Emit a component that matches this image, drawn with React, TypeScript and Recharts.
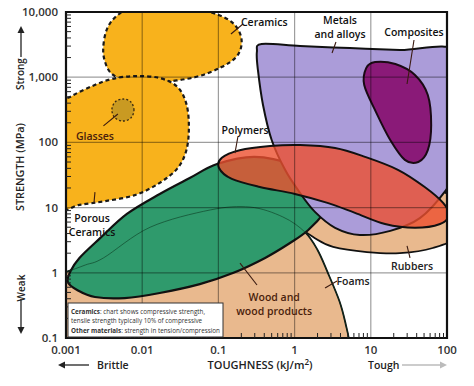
import { ScatterChart, Scatter, XAxis, YAxis, ReferenceLine, ReferenceArea } from "recharts";

type Pt = [number, number];

// toughness (kJ/m2), strength (MPa) outlines
const ceramics: Pt[] = [[0.0031, 3100], [0.0035, 5700], [0.0048, 9000], [0.0094, 14000], [0.027, 14000], [0.078, 10000], [0.15, 7000], [0.2, 4000], [0.18, 2200], [0.11, 1430], [0.049, 1000], [0.017, 840], [0.0069, 870], [0.004, 1120], [0.0032, 1840]];
const porousCeramics: Pt[] = [[0.00079, 340], [0.0012, 515], [0.0022, 730], [0.004, 940], [0.0081, 1040], [0.017, 970], [0.029, 710], [0.038, 390], [0.041, 172], [0.038, 76], [0.029, 40], [0.017, 24], [0.0081, 15.6], [0.0033, 12.6], [0.0015, 11], [0.00079, 9.9], [0.00062, 54]];
const glasses: Pt[] = [[0.0078, 314], [0.0071, 417], [0.0056, 463], [0.0044, 417], [0.004, 314], [0.0044, 237], [0.0056, 213], [0.0071, 237]];
const metals: Pt[] = [[0.37, 3230], [1.18, 3010], [5.3, 2800], [24, 2610], [139, 2440], [148, 221], [131, 38], [97, 18.6], [44, 6.9], [18, 4.4], [7.2, 3.8], [3.4, 4.9], [1.85, 8.6], [1.18, 16.7], [0.75, 38], [0.5, 109], [0.385, 375], [0.33, 1290], [0.32, 2440]];
const composites: Pt[] = [[11.4, 1710], [21, 1590], [38, 1080], [56, 533], [62, 185], [56, 76], [42, 50], [28, 54], [18, 109], [11.7, 292], [8.2, 760], [8.7, 1380]];
const polymers: Pt[] = [[0.111, 58], [0.19, 76], [0.475, 88], [1.18, 91], [3.4, 82], [8.4, 60], [22.7, 38], [51, 20.7], [89, 11.8], [106, 7.7], [81, 5.6], [38, 4.9], [15.4, 5.6], [6.2, 8.3], [2.7, 11.8], [1.01, 16.2], [0.35, 20.7], [0.15, 27.5], [0.102, 40.5]];
const wood: Pt[] = [[0.00113, 1.03], [0.0015, 1.69], [0.0028, 3.4], [0.0063, 8.0], [0.017, 16.2], [0.042, 28.4], [0.096, 46.6], [0.3, 60], [1.01, 45], [2.3, 26.5], [3.2, 15.1], [2.5, 8.6], [1.5, 4.5], [0.87, 2.86], [0.41, 1.69], [0.155, 0.99], [0.057, 0.67], [0.017, 0.49], [0.0059, 0.41], [0.0024, 0.425], [0.0014, 0.545], [0.00106, 0.72]];
const foams: Pt[] = [[0.00062, 0.89], [0.001, 1.03], [0.0018, 1.32], [0.0031, 1.69], [0.0127, 5.0], [0.078, 9.2], [0.26, 10.2], [0.7, 7.2], [1.37, 4.2], [2.0, 2.24], [2.7, 1.03], [3.9, 0.36], [4.7, 0.16], [5.3, 0.078], [5.7, 0.023], [0.00062, 0.023]];
const rubbers: Pt[] = [[0.87, 11], [1.37, 18.6], [3.9, 32.7], [10.7, 30.5], [30, 26.5], [81, 18.6], [139, 11], [139, 3.8], [65, 2.4], [24, 2.0], [8.9, 2.08], [3.2, 2.5], [1.85, 3.4], [1.11, 5.4]];

const xTicks = [0.001, 0.01, 0.1, 1, 10, 100];
const xTickLabels = ["0.001", "0.01", "0.1", "1", "10", "100"];
const yTicks = [0.1, 1, 10, 100, 1000, 10000];
const yTickLabels = ["0.1", "1", "10", "100", "1,000", "10,000"];
const minorSteps = [2, 3, 4, 5, 6, 7, 8, 9];

const labels = [
  { x: 0.4, y: 7000, lines: ["Ceramics"], color: "#111" },
  { x: 3.94, y: 5890, lines: ["Metals", "and alloys"], color: "#111" },
  { x: 36.9, y: 4940, lines: ["Composites"], color: "#111" },
  { x: 0.224, y: 155, lines: ["Polymers"], color: "#111" },
  { x: 0.0024, y: 125, lines: ["Glasses"], color: "#4a1e0c" },
  { x: 0.0022, y: 5.4, lines: ["Porous", "Ceramics"], color: "#111" },
  { x: 0.54, y: 0.33, lines: ["Wood and", "wood products"], color: "#4a1e0c" },
  { x: 5.84, y: 0.75, lines: ["Foams"], color: "#222" },
  { x: 34.8, y: 1.27, lines: ["Rubbers"], color: "#222" },
];

const leaders: [Pt, Pt][] = [
  [[0.21, 6540], [0.146, 4600]],
  [[3.49, 3470], [3.1, 2350]],
  [[36.9, 3720], [29.9, 787]],
  [[0.18, 121], [0.165, 68.7]],
  [[0.0031, 179], [0.0048, 273]],
  [[0.00233, 11.8], [0.0024, 17.3]],
  [[0.192, 1.41], [0.321, 0.65]],
  [[3.6, 0.748], [2.51, 0.585]],
  [[29.9, 2.58], [32.7, 1.69]],
];

const toRows = (pts: Pt[]) => pts.map(([x, y]) => ({ x, y }));

const xAll = [...xTicks, ...xTicks.slice(0, -1).flatMap((t) => minorSteps.map((m) => t * m))];
const yAll = [...yTicks, ...yTicks.slice(0, -1).flatMap((t) => minorSteps.map((m) => t * m))];

// closed catmull-rom through the pixel points
const blobPath = (pts: { x: number; y: number }[]) => {
  const n = pts.length;
  let d = `M${pts[0].x},${pts[0].y}`;
  for (let i = 0; i < n; i++) {
    const p0 = pts[(i - 1 + n) % n];
    const p1 = pts[i];
    const p2 = pts[(i + 1) % n];
    const p3 = pts[(i + 2) % n];
    const c1x = p1.x + (p2.x - p0.x) / 6;
    const c1y = p1.y + (p2.y - p0.y) / 6;
    const c2x = p2.x - (p3.x - p1.x) / 6;
    const c2y = p2.y - (p3.y - p1.y) / 6;
    d += ` C${c1x},${c1y} ${c2x},${c2y} ${p2.x},${p2.y}`;
  }
  return d + " Z";
};

const blob = (key: string, pts: Pt[], style: any) => (
  <Scatter
    key={key}
    data={toRows(pts)}
    isAnimationActive={false}
    lineType="joint"
    legendType="none"
    shape={() => <g />}
    line={(p: any) => <path d={blobPath(p.points)} {...style} />}
  />
);

const XTick = (props: any) => {
  const { x, y, payload } = props;
  const i = xTicks.indexOf(payload.value);
  if (i < 0) return <line x1={x} x2={x} y1={y} y2={y - 5} stroke="#222" strokeWidth={1} />;
  return (
    <text x={x} y={y + 16} textAnchor="middle" fontSize={11.5} fontWeight={600} fill="#333">
      {xTickLabels[i]}
    </text>
  );
};

const YTick = (props: any) => {
  const { x, y, payload } = props;
  const i = yTicks.indexOf(payload.value);
  if (i < 0) return <line x1={x} x2={x + 5} y1={y} y2={y} stroke="#222" strokeWidth={1} />;
  return (
    <text x={x - 8} y={y + 4} textAnchor="end" fontSize={11.5} fontWeight={600} fill="#333">
      {yTickLabels[i]}
    </text>
  );
};

const LabelShape = (props: any) => {
  const { cx, cy, payload } = props;
  const lh = 14;
  const top = cy - ((payload.lines.length - 1) * lh) / 2;
  return (
    <text textAnchor="middle" fontSize={10.5} fontWeight={600} fill={payload.color} dominantBaseline="central">
      {payload.lines.map((l: string, k: number) => (
        <tspan key={k} x={cx} y={top + k * lh}>
          {l}
        </tspan>
      ))}
    </text>
  );
};

const dashed = { stroke: "#1a1a1a", strokeWidth: 2.2, strokeDasharray: "4 3" };

export default function App() {
  return (
    <div style={{ position: "absolute", left: 0, top: 0, width: 474, height: 386, background: "#fff", fontFamily: "'Open Sans', sans-serif" }}>
      <ScatterChart width={474} height={386} margin={{ top: 12, right: 27, bottom: 0, left: 10 }} style={{ fontFamily: "'Open Sans', sans-serif" }}>
        {blob("foams", foams, { fill: "#e9b98e", stroke: "#111", strokeWidth: 1.8 })}
        {blob("rubbers", rubbers, { fill: "#e9b98e", stroke: "#111", strokeWidth: 1.8 })}
        {blob("wood", wood, { fill: "#2f9a6c", stroke: "#111", strokeWidth: 2.2 })}
        {blob("foamsEdge", foams, { fill: "none", stroke: "#0b3a22", strokeOpacity: 0.6, strokeWidth: 1 })}
        {blob("metals", metals, { fill: "#ab9cd9", stroke: "#111", strokeWidth: 2 })}
        {blob("composites", composites, { fill: "#8a1a78", stroke: "#1a0a14", strokeWidth: 2 })}
        {blob("polymers", polymers, { fill: "#ec5030", fillOpacity: 0.8, stroke: "#111", strokeWidth: 2 })}
        {blob("ceramics", ceramics, { fill: "#f8b21c", ...dashed })}
        {blob("porous", porousCeramics, { fill: "#f8b21c", ...dashed })}
        {blob("glasses", glasses, { fill: "#c99a22", stroke: "#3a2a10", strokeWidth: 1.3, strokeDasharray: "2 2" })}

        {xTicks.slice(1, -1).map((v) => (
          <ReferenceLine key={"gx" + v} x={v} stroke="#000" strokeOpacity={0.38} strokeWidth={1.2} zIndex={650} />
        ))}
        {yTicks.slice(1, -1).map((v) => (
          <ReferenceLine key={"gy" + v} y={v} stroke="#000" strokeOpacity={0.38} strokeWidth={1.2} zIndex={650} />
        ))}
        {leaders.map((s, k) => (
          <ReferenceLine
            key={"ld" + k}
            segment={[{ x: s[0][0], y: s[0][1] }, { x: s[1][0], y: s[1][1] }]}
            stroke="#3a1a10"
            strokeWidth={1.1}
            ifOverflow="visible"
            zIndex={660}
          />
        ))}
        <Scatter data={labels} isAnimationActive={false} legendType="none" shape={LabelShape} zIndex={800} />

        <XAxis
          dataKey="x"
          type="number"
          scale="log"
          domain={[0.001, 100]}
          allowDataOverflow
          ticks={xAll}
          interval={0}
          tick={XTick}
          tickSize={0}
          tickMargin={0}
          axisLine={false}
          height={48}
          zIndex={700}
        />
        <YAxis
          dataKey="y"
          type="number"
          scale="log"
          domain={[0.1, 10000]}
          allowDataOverflow
          ticks={yAll}
          interval={0}
          tick={YTick}
          tickSize={0}
          tickMargin={0}
          axisLine={false}
          width={56}
          zIndex={700}
        />
        <ReferenceArea x1={0.001} x2={100} y1={0.1} y2={10000} fill="none" stroke="#111" strokeWidth={2.2} ifOverflow="visible" zIndex={900} />
      </ScatterChart>

      <svg width={474} height={386} style={{ position: "absolute", left: 0, top: 0, pointerEvents: "none" }} fontFamily="'Open Sans', sans-serif">
        <rect x={68} y={303} width={155} height={34} fill="#fff" stroke="#333" strokeWidth={1} />
        <text x={71} y={314} fontSize={6.3} fill="#333">
          <tspan fontWeight={700}>Ceramics</tspan>: chart shows compressive strength,
        </text>
        <text x={71} y={323} fontSize={6.3} fill="#333">tensile strength typically 10% of compressive</text>
        <text x={71} y={333} fontSize={6.3} fill="#333">
          <tspan fontWeight={700}>Other materials</tspan>: strength in tension/compression
        </text>

        <text transform="translate(24,167) rotate(-90)" textAnchor="middle" fontSize={11} fontWeight={600} fill="#222" textLength={88} lengthAdjust="spacingAndGlyphs">
          STRENGTH (MPa)
        </text>
        <text transform="translate(24,74) rotate(-90)" textAnchor="middle" fontSize={10} fontWeight={600} fill="#222">
          Strong
        </text>
        <line x1={21} x2={21} y1={57} y2={32} stroke="#222" strokeWidth={1.3} />
        <polygon points="17.5,33 24.5,33 21,26" fill="#222" />
        <text transform="translate(25,288) rotate(-90)" textAnchor="middle" fontSize={10} fontWeight={600} fill="#222">
          Weak
        </text>
        <line x1={21} x2={21} y1={299} y2={328} stroke="#222" strokeWidth={1.3} />
        <polygon points="17.5,327 24.5,327 21,334" fill="#222" />

        <text x={260} y={369} textAnchor="middle" fontSize={11} fontWeight={600} fill="#222">
          TOUGHNESS (kJ/m<tspan dy={-4} fontSize={8}>2</tspan><tspan dy={4}>)</tspan>
        </text>
        <line x1={64} x2={89} y1={365} y2={365} stroke="#222" strokeWidth={1.3} />
        <polygon points="65,361.5 65,368.5 58,365" fill="#222" />
        <text x={97} y={369} fontSize={10.5} fontWeight={600} fill="#222">
          Brittle
        </text>
        <text x={368} y={369} fontSize={10.5} fontWeight={600} fill="#222">
          Tough
        </text>
        <line x1={402} x2={440} y1={365} y2={365} stroke="#bbb" strokeWidth={1.3} />
        <polygon points="440,361.5 440,368.5 447,365" fill="#bbb" />
      </svg>
    </div>
  );
}
